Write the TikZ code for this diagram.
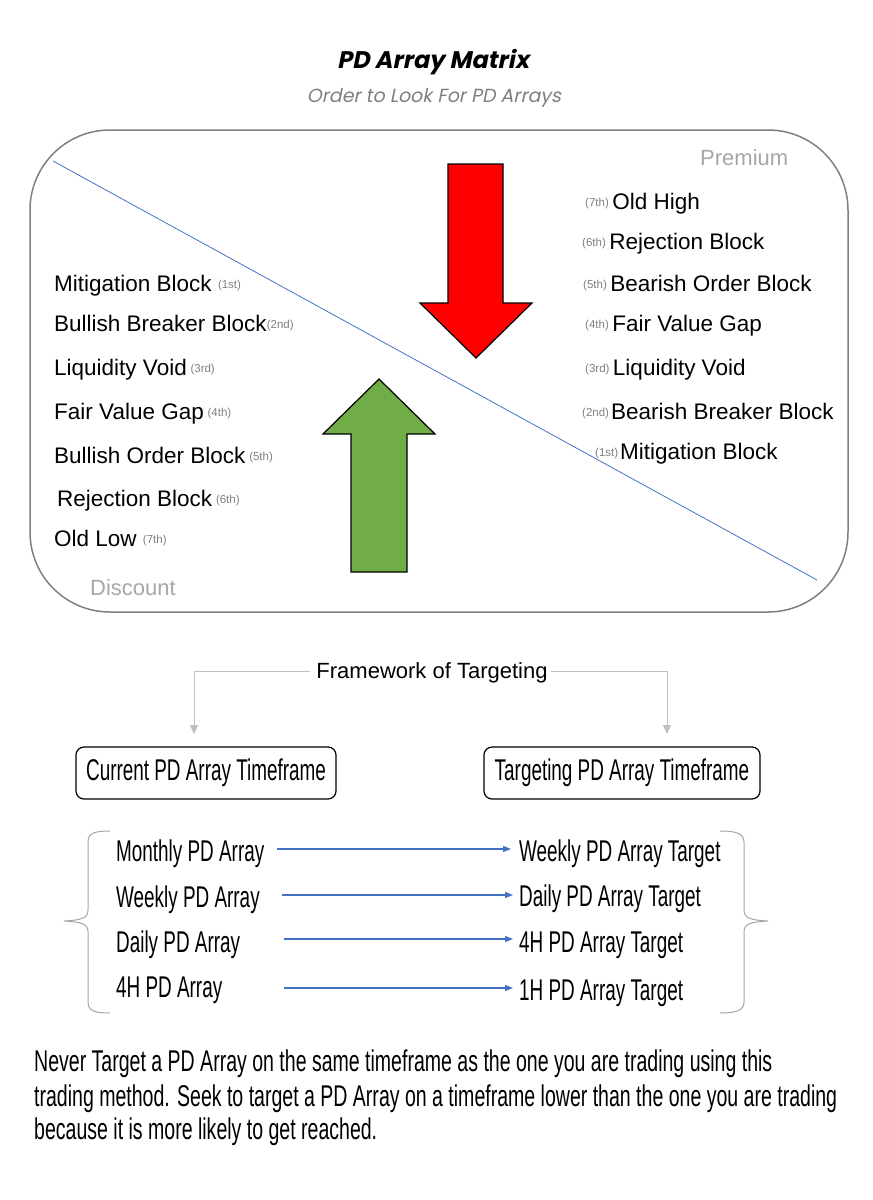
\documentclass[tikz,border=0pt]{standalone}
\usepackage{fontspec}
\setmainfont{Liberation Sans}
\newfontfamily\agency[FakeStretch=0.63]{Liberation Sans}
\newfontfamily\agencynote[FakeStretch=0.651]{Liberation Sans}
\newfontfamily\titlefont[FakeSlant=0.2]{Poppins}
\usetikzlibrary{arrows.meta}
\definecolor{boxgray}{HTML}{808080}
\definecolor{lightgray}{HTML}{A6A6A6}
\definecolor{ordgray}{HTML}{7F7F7F}
\definecolor{linegray}{HTML}{BFBFBF}
\definecolor{diagblue}{HTML}{4472C4}
\definecolor{bullgreen}{HTML}{70AD47}
\newcommand{\ord}[1]{\raisebox{2.5pt}{\fontsize{11.5}{12}\selectfont\color{ordgray}#1}}
\tikzset{
  lbl/.style={anchor=base west, inner sep=0pt, font=\fontsize{22.5}{26}\selectfont},
  zone/.style={anchor=base west, inner sep=0pt, text=lightgray, font=\fontsize{22}{26}\selectfont},
  agtext/.style={anchor=base west, inner sep=0pt, font=\agency\fontsize{30}{34}\selectfont},
  notetext/.style={anchor=base west, inner sep=0pt, font=\agencynote\fontsize{30}{34}\selectfont},
  tfbox/.style={draw=black, line width=1.2pt, rounded corners=8pt, minimum height=52pt, inner sep=0pt, font=\agency\fontsize{30}{34}\selectfont},
  grayconn/.style={draw=linegray, line width=1pt, -{Triangle[width=8pt,length=9pt]}},
  blueconn/.style={draw=diagblue, line width=1.1pt, -{Triangle[width=6pt,length=8pt]}},
  bracepath/.style={draw=lightgray, line width=1pt},
  bigarrow/.style={draw=black, line width=1.2pt, line join=miter}
}
\begin{document}
\begin{tikzpicture}[x=1pt, y=-1pt]
\useasboundingbox (0,0) rectangle (873,1200);
% titles
\node[font=\titlefont\bfseries\fontsize{24}{28}\selectfont] (title) at (433,62) {PD Array Matrix};
\node[font=\titlefont\fontsize{19}{22}\selectfont, text=ordgray] (subtitle) at (434,98) {Order to Look For PD Arrays};
% big rounded frame
\draw[boxgray, line width=1.5pt, rounded corners=80pt] (30,130) rectangle (848,612);
% diagonal
\draw[diagblue, line width=0.8pt] (53,161) -- (817,580);
% red down arrow
\draw[bigarrow, fill=red] (448,164) -- (503,164) -- (503,303) -- (532,303) -- (476,358) -- (420,303) -- (448,303) -- cycle;
% green up arrow
\draw[bigarrow, fill=bullgreen] (379,379) -- (435,434) -- (407,434) -- (407,572) -- (351,572) -- (351,434) -- (323,434) -- cycle;
% zone labels
\node[zone] (premium) at (700,165) {Premium};
\node[zone] (discount) at (90,595) {Discount};
% left list
\node[lbl] (l1) at (54,291) {Mitigation Block \ord{(1st)}};
\node[lbl] (l2) at (54,331) {Bullish Breaker Block\ord{(2nd)}};
\node[lbl] (l3) at (54,375) {Liquidity Void\,\ord{(3rd)}};
\node[lbl] (l4) at (54,419) {Fair Value Gap\,\ord{(4th)}};
\node[lbl] (l5) at (54,463) {Bullish Order Block\,\ord{(5th)}};
\node[lbl] (l6) at (57,506) {Rejection Block\,\ord{(6th)}};
\node[lbl] (l7) at (54,546) {Old Low \ord{(7th)}};
% right list
\node[lbl] (r7) at (585,209) {\ord{(7th)}\hspace{3.5pt}Old High};
\node[lbl] (r6) at (582,249) {\ord{(6th)}\hspace{3.5pt}Rejection Block};
\node[lbl] (r5) at (583,291) {\ord{(5th)}\hspace{3.5pt}Bearish Order Block};
\node[lbl] (r4) at (585,331) {\ord{(4th)}\hspace{3.5pt}Fair Value Gap};
\node[lbl] (r3) at (585,375) {\ord{(3rd)}\hspace{3.5pt}Liquidity Void};
\node[lbl] (r2) at (582,419) {\ord{(2nd)}\hspace{2pt}Bearish Breaker Block};
\node[lbl] (r1) at (595,459) {\ord{(1st)}\hspace{2pt}Mitigation Block};
% framework
\node[font=\fontsize{22}{26}\selectfont, inner sep=0pt] (fw) at (432,673) {Framework of Targeting};
\node[tfbox, minimum width=260pt] (cur) at (206,773) {Current PD Array Timeframe};
\node[tfbox, minimum width=276pt] (tgt) at (622,773) {Targeting PD Array Timeframe};
\coordinate (cl) at (194,671);
\coordinate (cr) at (667,671);
\draw[grayconn] ([xshift=-6pt]fw.west |- cl) -- (cl) -- (194,734);
\draw[grayconn] ([xshift=3pt]fw.east |- cr) -- (cr) -- (667,734);
% braces
\draw[bracepath] (110,831) .. controls (95,831) and (88,833) .. (88,842) -- (88,910) .. controls (88,918) and (82,920) .. (64,921) .. controls (82,922) and (88,924) .. (88,932) -- (88,1002) .. controls (88,1011) and (95,1013) .. (110,1013);
\draw[bracepath] (720,831) .. controls (735,831) and (744,833) .. (744,842) -- (744,910) .. controls (744,918) and (750,920) .. (768,921) .. controls (750,922) and (744,924) .. (744,932) -- (744,1002) .. controls (744,1011) and (735,1013) .. (720,1013);
% timeframe lists
\node[agtext] (m1) at (116,861) {Monthly PD Array};
\node[agtext] (m2) at (116,907) {Weekly PD Array};
\node[agtext] (m3) at (116,952) {Daily PD Array};
\node[agtext] (m4) at (116,997) {4H PD Array};
\node[agtext] (t1) at (519,861) {Weekly PD Array Target};
\node[agtext] (t2) at (519,906) {Daily PD Array Target};
\node[agtext] (t3) at (519,952) {4H PD Array Target};
\node[agtext] (t4) at (519,1000) {1H PD Array Target};
\coordinate (a1s) at (277,849); \coordinate (a1e) at (511,849);
\coordinate (a2s) at (282,895); \coordinate (a2e) at (513,895);
\coordinate (a3s) at (284,939); \coordinate (a3e) at (513,939);
\coordinate (a4s) at (284,988); \coordinate (a4e) at (513,988);
\draw[blueconn] (a1s) -- (a1e);
\draw[blueconn] (a2s) -- (a2e);
\draw[blueconn] (a3s) -- (a3e);
\draw[blueconn] (a4s) -- (a4e);
% note
\node[notetext] (n1) at (34,1071) {Never Target a PD Array on the same timeframe as the one you are trading using this};
\node[notetext] (n2) at (34,1106) {trading method. Seek to target a PD Array on a timeframe lower than the one you are trading};
\node[notetext] (n3) at (34,1139) {because it is more likely to get reached.};
\end{tikzpicture}
\end{document}
